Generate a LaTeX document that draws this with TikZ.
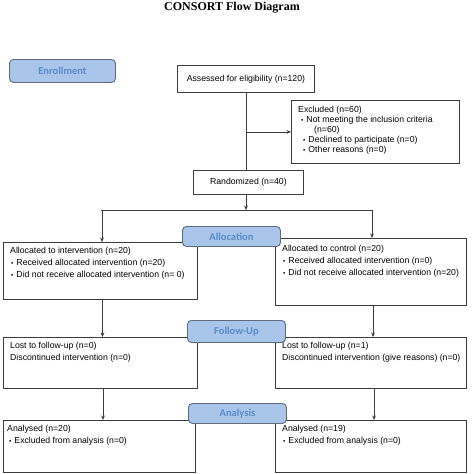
\documentclass[tikz,border=0pt]{standalone}
\usepackage{fontspec}
\setmainfont{Liberation Sans}
\newfontfamily\titlefont{Liberation Serif}
\newfontfamily\labfont{Carlito}
\usetikzlibrary{arrows.meta}
\definecolor{labfill}{HTML}{A9C5EA}
\definecolor{labdraw}{HTML}{5E6B7D}
\definecolor{labtext}{HTML}{5A8BC9}
\definecolor{linec}{HTML}{3C3C3C}
\newcommand\bl{{\fontsize{6.5}{6}\selectfont\textbullet}\hspace{3pt}}
\begin{document}
\begin{tikzpicture}[x=1pt,y=-1pt,
  box/.style={draw=linec, line width=0.8pt, anchor=north west, inner sep=0pt, fill=white, font=\fontsize{8.7}{11}\selectfont},
  txt/.style={anchor=north west, inner sep=0pt, align=left, font=\fontsize{8.7}{12}\selectfont},
  lab/.style={draw=labdraw, fill=labfill, rounded corners=4pt, line width=0.9pt, text=labtext, font=\labfont\bfseries\fontsize{10.5}{12}\selectfont, anchor=north west, inner sep=0pt},
  arr/.style={draw=linec, line width=0.8pt, -{Stealth[length=4.5pt,width=3.8pt]}},
  ln/.style={draw=linec, line width=0.8pt}]
\useasboundingbox (0,0) rectangle (474,474);
\fill[white] (0,0) rectangle (474,474);

\node[font=\titlefont\bfseries\fontsize{12}{14}\selectfont] (title) at (232,8) {CONSORT Flow Diagram};

% enrollment
\node[lab, minimum width=106pt, minimum height=23pt] (enrol) at (9,59) {Enrollment};
\node[box, minimum width=137pt, minimum height=27pt] (assess) at (177,65) {Assessed for eligibility (n=120)};
\node[box, minimum width=168pt, minimum height=63pt] (excl) at (291,100) {};
\node[txt, font=\fontsize{8.7}{10}\selectfont] (exclT) at ([xshift=7pt,yshift=-6pt]excl.north west)
  {Excluded (n=60)\\
   \hspace*{3pt}\bl Not meeting the inclusion criteria\\
   \hspace*{16pt}(n=60)\\
   \hspace*{5pt}\bl Declined to participate (n=0)\\
   \hspace*{5pt}\bl Other reasons (n=0)};
\node[box, minimum width=110pt, minimum height=24pt] (rand) at (193,170) {Randomized (n=40)};

\coordinate (mainx) at (246,0);
\coordinate (split) at (246,210);
\coordinate (splitL) at (102,210);
\coordinate (splitR) at (372,210);
\coordinate (colL) at (102.5,0);
\coordinate (colR) at (373,0);

% allocation
\node[box, minimum width=194pt, minimum height=57pt] (allocL) at (3,242) {};
\node[txt] (allocLT) at ([xshift=7pt,yshift=-5pt]allocL.north west)
  {Allocated to intervention (n=20)\\
   \hspace*{1pt}\bl Received allocated intervention (n=20)\\
   \hspace*{1pt}\bl Did not receive allocated intervention (n= 0)};
\node[box, minimum width=191pt, minimum height=67pt] (allocR) at (275,238) {};
\node[txt] (allocRT) at ([xshift=7pt,yshift=-7pt]allocR.north west)
  {Allocated to control (n=20)\\
   \hspace*{1pt}\bl Received allocated intervention (n=0)\\
   \hspace*{1pt}\bl Did not receive allocated intervention (n=20)};

% follow-up
\node[box, minimum width=194pt, minimum height=51pt] (fuL) at (3,337) {};
\node[txt, font=\fontsize{8.7}{11.5}\selectfont] (fuLT) at ([xshift=7pt,yshift=-5pt]fuL.north west)
  {Lost to follow-up (n=0)\\ Discontinued intervention (n=0)};
\node[box, minimum width=191pt, minimum height=51pt] (fuR) at (275,337) {};
\node[txt, font=\fontsize{8.7}{11.5}\selectfont] (fuRT) at ([xshift=7pt,yshift=-5pt]fuR.north west)
  {Lost to follow-up (n=1)\\ Discontinued intervention (give reasons) (n=0)};

% analysis
\node[box, minimum width=192pt, minimum height=52pt] (anL) at (3,420) {};
\node[txt] (anLT) at ([xshift=4pt,yshift=-5pt]anL.north west)
  {Analysed (n=20)\\ \hspace*{2pt}\bl Excluded from analysis (n=0)};
\node[box, minimum width=191pt, minimum height=52pt] (anR) at (275,420) {};
\node[txt] (anRT) at ([xshift=7pt,yshift=-5pt]anR.north west)
  {Analysed (n=19)\\ \hspace*{1pt}\bl Excluded from analysis (n=0)};

% connectors
\draw[ln] (assess.south -| mainx) -- (rand.north -| mainx);
\draw[arr] (excl.west -| mainx) -- (excl.west);
\draw[arr] (rand.south -| split) -- (split);
\draw[ln] ([xshift=-1pt]splitL) -- (splitR);
\draw[arr] (splitL) -- (allocL.north -| splitL);
\draw[arr] (splitR) -- (allocR.north -| splitR);
\draw[arr] (allocL.south -| colL) -- (fuL.north -| colL);
\draw[arr] (allocR.south -| colR) -- (fuR.north -| colR);
\draw[arr] ([xshift=0.5pt]fuL.south -| colL) -- ([xshift=0.5pt]anL.north -| colL);
\draw[arr] ([xshift=1pt]fuR.south -| colR) -- ([xshift=1pt]anR.north -| colR);

% stage labels on top
\node[lab, minimum width=98pt, minimum height=20pt] (allocLab) at (182,226) {Allocation};
\node[lab, minimum width=98pt, minimum height=22pt] (fuLab) at (187,320) {Follow-Up};
\node[lab, minimum width=98pt, minimum height=20pt] (anLab) at (188,403) {Analysis};
\end{tikzpicture}
\end{document}
